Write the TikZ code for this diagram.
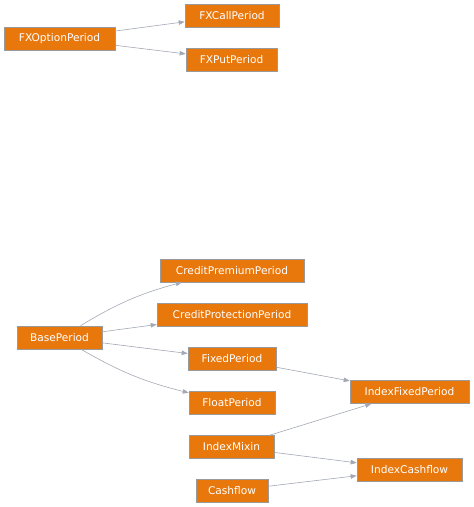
\documentclass[tikz,border=0pt]{standalone}
\usepackage{fontspec}
\setsansfont{DejaVu Sans}
\usetikzlibrary{arrows.meta}
\definecolor{clsfill}{HTML}{E8770C}
\definecolor{clsline}{HTML}{9A9A9A}
\definecolor{edgeline}{HTML}{A3A8B4}

\begin{document}
\begin{tikzpicture}[
  x=1pt,y=-1pt,
  cls/.style={draw=clsline,fill=clsfill,text=white,inner sep=0pt,minimum height=23pt,
    font=\sffamily\fontsize{10.6}{12}\selectfont,line width=0.6pt},
  inh/.style={draw=edgeline,line width=0.6pt,-{Triangle[length=6pt,width=4.5pt]}}
]
\useasboundingbox (0,0) rectangle (474,507);

% FX option periods
\node[cls,minimum width=111pt] (fxopt) at (59.5,38.5) {FXOptionPeriod};
\node[cls,minimum width=94pt] (fxcall) at (232,15.5) {FXCallPeriod};
\node[cls,minimum width=91pt] (fxput) at (231.5,59.5) {FXPutPeriod};

% base period and its children
\node[cls,minimum width=85pt] (base) at (59.5,337.5) {BasePeriod};
\node[cls,minimum width=144pt] (credprem) at (232,270.5) {CreditPremiumPeriod};
\node[cls,minimum width=150pt] (credprot) at (232,314.5) {CreditProtectionPeriod};
\node[cls,minimum width=88pt] (fixed) at (232,359) {FixedPeriod};
\node[cls,minimum width=86pt] (float) at (232,402.5) {FloatPeriod};

% index classes
\node[cls,minimum width=119pt] (idxfixed) at (409.5,392) {IndexFixedPeriod};
\node[cls,minimum width=85pt] (idxmixin) at (231.5,447) {IndexMixin};
\node[cls,minimum width=105pt] (idxcash) at (409.5,469.5) {IndexCashflow};
\node[cls,minimum width=72pt] (cashflow) at (232,490.5) {Cashflow};

\draw[inh] (fxopt) -- (fxcall);
\draw[inh] (fxopt) -- (fxput);

\draw[inh] (base) to[bend left=8] (credprem);
\draw[inh] (base) -- (credprot);
\draw[inh] (base) -- (fixed);
\draw[inh] (base) to[bend right=8] (float);

\draw[inh] (fixed) -- (idxfixed);
\draw[inh] (idxmixin) -- (idxfixed);
\draw[inh] (idxmixin) -- (idxcash);
\draw[inh] (cashflow) -- (idxcash);
\end{tikzpicture}
\end{document}
